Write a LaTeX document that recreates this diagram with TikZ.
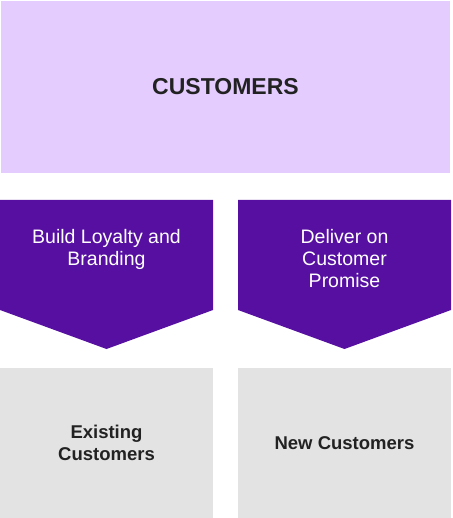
\documentclass[tikz,border=0pt]{standalone}
\usepackage{fontspec}
\setmainfont{Liberation Sans}
\usepackage{xcolor}
\usepackage{tikz}
\usetikzlibrary{positioning,calc}

\definecolor{lilac}{HTML}{E5CCFF}
\definecolor{deeppurple}{HTML}{560FA0}
\definecolor{panelgrey}{HTML}{E3E3E3}
\definecolor{inkdark}{HTML}{222222}

\tikzset{
  chevtext/.style={text=white, align=center, anchor=north, inner sep=0pt,
    font=\fontsize{19.5}{22}\selectfont},
  panetext/.style={text=inkdark, align=center, inner sep=0pt,
    font=\bfseries\fontsize{18.5}{22}\selectfont}
}

\begin{document}
\begin{tikzpicture}[x=1pt, y=-1pt]
    \useasboundingbox (0,0) rectangle (452,518);

    % top band
    \fill[lilac] (1,1) rectangle (450,173);
    \node[text=inkdark, font=\bfseries\fontsize{23}{26}\selectfont] (customers) at (225.5,87) {CUSTOMERS};

    % the two down-pointing chevrons
    \fill[deeppurple] (0,200) -- (213,200) -- (213,310) -- (106.5,349) -- (0,310) -- cycle;
    \fill[deeppurple] (238,200) -- (451,200) -- (451,310) -- (344.5,349) -- (238,310) -- cycle;
    \node[chevtext] (loyalty) at (106.5,229) {Build Loyalty and\\Branding};
    \node[chevtext] (promise) at (344.5,229) {Deliver on\\Customer\\Promise};

    % grey panels below
    \fill[panelgrey] (0,368) rectangle (213,518);
    \fill[panelgrey] (238,368) rectangle (451,518);
    \node[panetext] (existing) at (106.5,443) {Existing\\Customers};
    \node[panetext] (newcust) at (344.5,443) {New Customers};
\end{tikzpicture}
\end{document}
